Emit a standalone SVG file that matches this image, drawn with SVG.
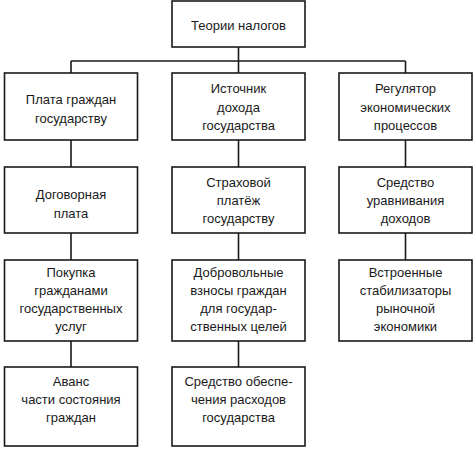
<svg xmlns="http://www.w3.org/2000/svg" width="474" height="449" viewBox="0 0 474 449">
<style>
.box{fill:#fff;stroke:#1a1a1a;stroke-width:1.6}
.t{font-family:"Liberation Sans",Arial,sans-serif;font-size:13px;fill:#1a1a1a;text-anchor:middle}
.c{fill:none;stroke:#1a1a1a;stroke-width:1.6}
</style>
<rect width="474" height="449" fill="#fff"/>
<g id="connectors">
<path class="c" d="M238.5 47V61M71 61H405.5M71 61V73M238.5 61V73M405.5 61V73"/>
<path class="c" d="M71 140V167M238.5 140V167M405.5 140V167"/>
<path class="c" d="M71 233V260M238.5 233V260M405.5 233V260"/>
<path class="c" d="M71 341V367M238.5 341V367"/>
</g>
<g id="root"><rect class="box" x="172" y="1" width="133" height="46"/><text class="t" x="238.5" y="30">Теории налогов</text></g>
<g id="n1a"><rect class="box" x="4.5" y="73" width="133" height="67"/><text class="t" x="71" y="104">Плата граждан</text><text class="t" x="71" y="123">государству</text></g>
<g id="n2a"><rect class="box" x="172" y="73" width="133" height="67"/><text class="t" x="238.5" y="93">Источник</text><text class="t" x="238.5" y="112">дохода</text><text class="t" x="238.5" y="130">государства</text></g>
<g id="n3a"><rect class="box" x="339" y="73" width="133" height="67"/><text class="t" x="405.5" y="93">Регулятор</text><text class="t" x="405.5" y="112">экономических</text><text class="t" x="405.5" y="130">процессов</text></g>
<g id="n1b"><rect class="box" x="4.5" y="167" width="133" height="66"/><text class="t" x="71" y="199">Договорная</text><text class="t" x="71" y="218">плата</text></g>
<g id="n2b"><rect class="box" x="172" y="167" width="133" height="66"/><text class="t" x="238.5" y="187">Страховой</text><text class="t" x="238.5" y="205">платёж</text><text class="t" x="238.5" y="223">государству</text></g>
<g id="n3b"><rect class="box" x="339" y="167" width="133" height="66"/><text class="t" x="405.5" y="187">Средство</text><text class="t" x="405.5" y="205">уравнивания</text><text class="t" x="405.5" y="223">доходов</text></g>
<g id="n1c"><rect class="box" x="4.5" y="260" width="133" height="81"/><text class="t" x="71" y="277">Покупка</text><text class="t" x="71" y="295">гражданами</text><text class="t" x="71" y="313">государственных</text><text class="t" x="71" y="331">услуг</text></g>
<g id="n2c"><rect class="box" x="172" y="260" width="133" height="81"/><text class="t" x="238.5" y="277">Добровольные</text><text class="t" x="238.5" y="295">взносы граждан</text><text class="t" x="238.5" y="313">для государ-</text><text class="t" x="238.5" y="331">ственных целей</text></g>
<g id="n3c"><rect class="box" x="339" y="260" width="133" height="81"/><text class="t" x="405.5" y="277">Встроенные</text><text class="t" x="405.5" y="295">стабилизаторы</text><text class="t" x="405.5" y="313">рыночной</text><text class="t" x="405.5" y="331">экономики</text></g>
<g id="n1d"><rect class="box" x="4.5" y="367" width="133" height="79"/><text class="t" x="71" y="386">Аванс</text><text class="t" x="71" y="404">части состояния</text><text class="t" x="71" y="422">граждан</text></g>
<g id="n2d"><rect class="box" x="172" y="367" width="133" height="79"/><text class="t" x="238.5" y="386">Средство обеспе-</text><text class="t" x="238.5" y="404">чения расходов</text><text class="t" x="238.5" y="422">государства</text></g>
</svg>
